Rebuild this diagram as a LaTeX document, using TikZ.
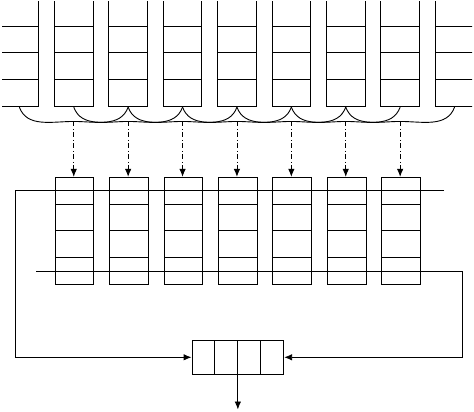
\documentclass[tikz,border=0pt]{standalone}
\usepackage{tikz}
\usetikzlibrary{shapes,arrows.meta,calc}
\tikzstyle{stack}=[draw,rectangle,inner sep=0pt,minimum width=38.7pt,
    path picture={
      \draw ($(path picture bounding box.south west)!0.25!(path picture bounding box.north west)$) -- ($(path picture bounding box.south east)!0.25!(path picture bounding box.north east)$);
      \draw ($(path picture bounding box.south west)!0.5!(path picture bounding box.north west)$) -- ($(path picture bounding box.south east)!0.5!(path picture bounding box.north east)$);
      \draw ($(path picture bounding box.south west)!0.75!(path picture bounding box.north west)$) -- ($(path picture bounding box.south east)!0.75!(path picture bounding box.north east)$);
    }]
\tikzstyle{Tstack}=[stack,minimum height=107.6pt]
\tikzstyle{Mstack}=[stack,minimum height=107pt]
\tikzstyle{queue}=[draw,rectangle,inner sep=0pt,minimum width=91.7pt,minimum height=34pt,
    path picture={
      \draw ($(path picture bounding box.south west)!0.25!(path picture bounding box.south east)$) -- ($(path picture bounding box.north west)!0.25!(path picture bounding box.north east)$);
      \draw ($(path picture bounding box.south west)!0.5!(path picture bounding box.south east)$) -- ($(path picture bounding box.north west)!0.5!(path picture bounding box.north east)$);
      \draw ($(path picture bounding box.south west)!0.75!(path picture bounding box.south east)$) -- ($(path picture bounding box.north west)!0.75!(path picture bounding box.north east)$);
    }]
\tikzstyle{arr}=[-{Latex[length=8pt,width=6.5pt]}]
\tikzstyle{dasharr}=[arr,dash pattern=on 5pt off 2.5pt on 1pt off 2.5pt]
\newcommand{\tikzpicunit}{1pt}

\begin{document}
\begin{tikzpicture}[x=\tikzpicunit,y=\tikzpicunit,line width=0.9pt]
    \useasboundingbox (0,0) rectangle (474,-412);
    \clip (2,-2) rectangle (472,-412);
    % input columns
    \node[Tstack] (T1) at (19.35,-52.9)  {};
    \node[Tstack] (T2) at (73.75,-52.9)  {};
    \node[Tstack] (T3) at (128.15,-52.9) {};
    \node[Tstack] (T4) at (182.55,-52.9) {};
    \node[Tstack] (T5) at (236.95,-52.9) {};
    \node[Tstack] (T6) at (291.35,-52.9) {};
    \node[Tstack] (T7) at (345.75,-52.9) {};
    \node[Tstack] (T8) at (400.15,-52.9) {};
    \node[Tstack] (T9) at (454.55,-52.9) {};

    \coordinate (D2) at ($(T2.south)+(0,-14.3)$);
    \coordinate (D3) at ($(T3.south)+(0,-14.3)$);
    \coordinate (D4) at ($(T4.south)+(0,-14.3)$);
    \coordinate (D5) at ($(T5.south)+(0,-14.3)$);
    \coordinate (D6) at ($(T6.south)+(0,-14.3)$);
    \coordinate (D7) at ($(T7.south)+(0,-14.3)$);
    \coordinate (D8) at ($(T8.south)+(0,-14.3)$);

    \draw (T1.south) to[out=-70,in=180] (D2) to[out=0,in=-110] (T3.south);
    \draw (T2.south) to[out=-70,in=180] (D3) to[out=0,in=-110] (T4.south);
    \draw (T3.south) to[out=-70,in=180] (D4) to[out=0,in=-110] (T5.south);
    \draw (T4.south) to[out=-70,in=180] (D5) to[out=0,in=-110] (T6.south);
    \draw (T5.south) to[out=-70,in=180] (D6) to[out=0,in=-110] (T7.south);
    \draw (T6.south) to[out=-70,in=180] (D7) to[out=0,in=-110] (T8.south);
    \draw (T7.south) to[out=-70,in=180] (D8) to[out=0,in=-110] (T9.south);

    % middle row
    \node[Mstack] (M1) at (74.4,-230.8)   {};
    \node[Mstack] (M2) at (128.85,-230.8) {};
    \node[Mstack] (M3) at (183.3,-230.8)  {};
    \node[Mstack] (M4) at (237.75,-230.8) {};
    \node[Mstack] (M5) at (292.2,-230.8)  {};
    \node[Mstack] (M6) at (346.65,-230.8) {};
    \node[Mstack] (M7) at (401.1,-230.8)  {};

    \draw[dasharr] (D2) -- (D2 |- M1.north);
    \draw[dasharr] (D3) -- (D3 |- M2.north);
    \draw[dasharr] (D4) -- (D4 |- M3.north);
    \draw[dasharr] (D5) -- (D5 |- M4.north);
    \draw[dasharr] (D6) -- (D6 |- M5.north);
    \draw[dasharr] (D7) -- (D7 |- M6.north);
    \draw[dasharr] (D8) -- (D8 |- M7.north);

    % output queue
    \node[queue] (Q) at (237.85,-357.3) {};
    \coordinate (Qout) at (237.85,-409.5);

    \coordinate (toptail) at (444,-190.7);
    \coordinate (leftx) at (15,0);
    \coordinate (bottail) at (36,-271);
    \coordinate (rightx) at (462.3,0);

    \draw[arr] (toptail) -- (toptail -| leftx) |- (Q.west);
    \draw[arr] (bottail) -- (bottail -| rightx) |- (Q.east);
    \draw[arr] (Q.south) -- (Qout);
\end{tikzpicture}
\end{document}
